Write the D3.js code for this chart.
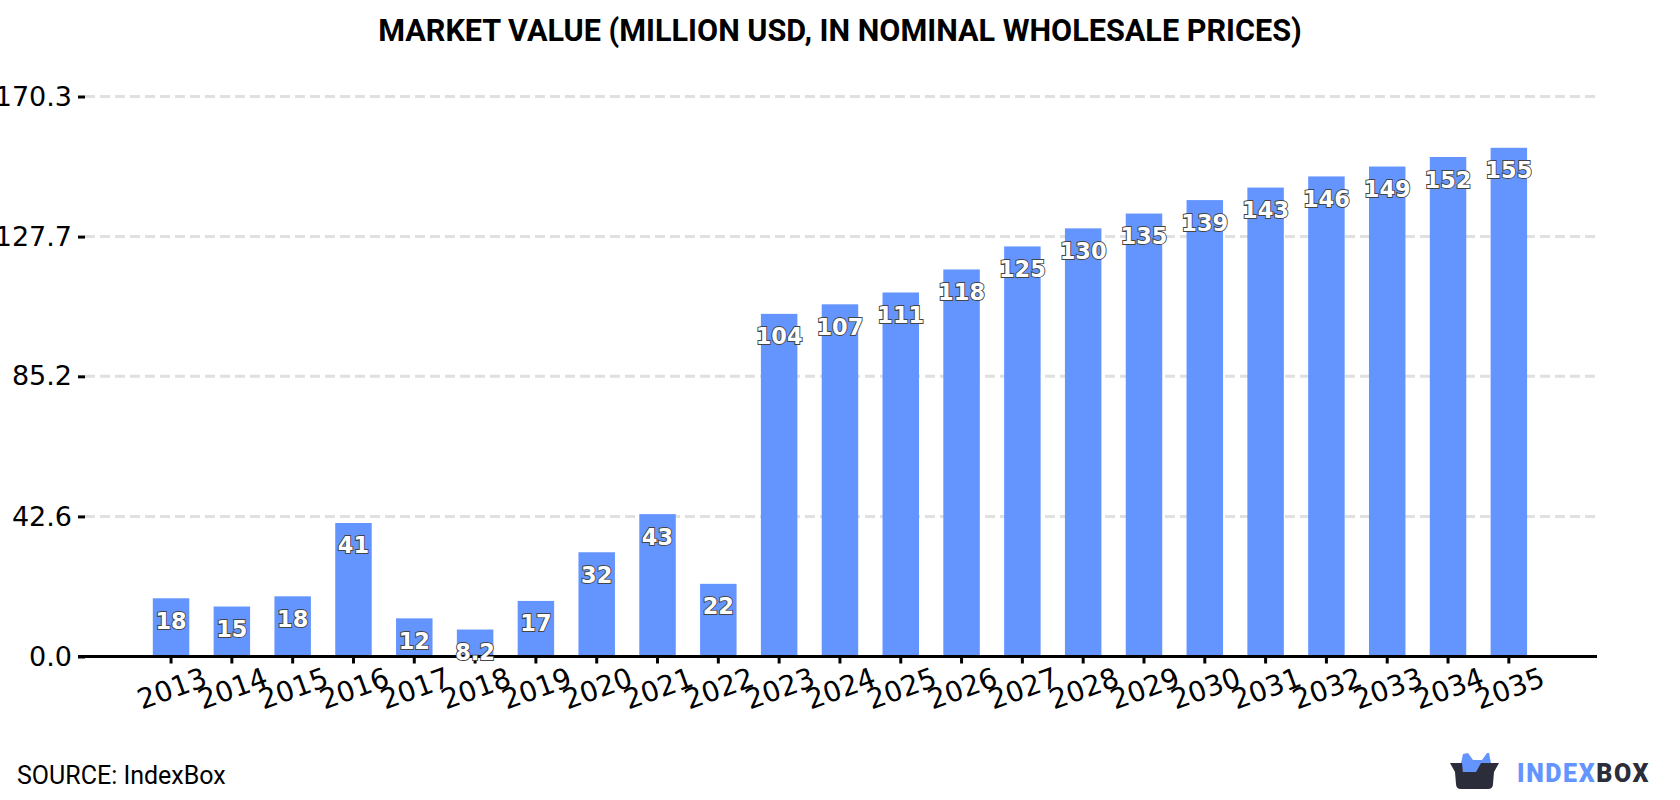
<!DOCTYPE html>
<html>
<head>
<meta charset="utf-8">
<script src="https://cdn.jsdelivr.net/npm/d3@7"></script>
<style>
html,body{margin:0;padding:0;background:#fff;}
svg{display:block;}
</style>
</head>
<body>
<svg id="chart" width="1680" height="800"></svg>
<script>
const titleText = "MARKET VALUE (MILLION USD, IN NOMINAL WHOLESALE PRICES)";
const sourceText = "SOURCE: IndexBox";
const years = [2013,2014,2015,2016,2017,2018,2019,2020,2021,2022,2023,2024,2025,2026,2027,2028,2029,2030,2031,2032,2033,2034,2035];
const values = [17.7,15.2,18.3,40.6,11.6,8.2,16.9,31.7,43.3,22.1,104.2,107.1,110.7,117.7,124.7,130.2,134.7,138.8,142.6,146.0,149.0,151.9,154.7];
const yTicks = [0.0,42.6,85.2,127.7,170.3];

const svg = d3.select("#chart");
const left = 78, right = 1597, baseY = 656.5, topY = 96.5;

const x = d3.scaleBand().domain(years).range([left + 1, right + 1]).paddingInner(0.4).paddingOuter(1.19).align(0.51);
const y = d3.scaleLinear().domain([0, 170.3]).range([baseY, topY]);

// Dashed horizontal grid, drawn behind the bars
svg.append("g").selectAll("line").data(yTicks.slice(1)).join("line")
  .attr("x1", left + 7).attr("x2", right)
  .attr("y1", d => y(d)).attr("y2", d => y(d))
  .attr("stroke", "#e0e0e0").attr("stroke-width", 3).attr("stroke-dasharray", "10 5");

// Bars
svg.append("g").selectAll("rect").data(years).join("rect")
  .attr("x", d => x(d))
  .attr("width", x.bandwidth())
  .attr("y", (d, i) => y(values[i]))
  .attr("height", (d, i) => baseY - y(values[i]))
  .attr("fill", "#6495ff");

// Left axis
const yAxis = d3.axisLeft(y).tickValues(yTicks).tickFormat(d3.format(".1f")).tickSize(7).tickPadding(6);
const gy = svg.append("g").attr("transform", `translate(${left + 7},0)`).call(yAxis);
gy.select(".domain").remove();
gy.selectAll("line").attr("stroke", "#000").attr("stroke-width", 3);
gy.selectAll("text").attr("font-family", "DejaVu Sans").attr("font-size", 27).attr("fill", "#000");

// Bottom axis
const xAxis = d3.axisBottom(x).tickSize(7).tickSizeOuter(0).tickPadding(8);
const gx = svg.append("g").attr("transform", `translate(0,${baseY})`).call(xAxis);
gx.select(".domain").attr("stroke", "#000").attr("stroke-width", 3).attr("d", `M${left},0H${right}`);
gx.selectAll("line").attr("stroke", "#000").attr("stroke-width", 3);
gx.selectAll("text")
  .attr("font-family", "DejaVu Sans").attr("font-size", 28).attr("fill", "#000")
  .attr("text-anchor", "middle").attr("dy", null)
  .attr("transform", "translate(-1,27) rotate(-20)");

// Value labels inside the bars
const fmt = v => v < 10 ? v.toFixed(1) : String(Math.round(v));
svg.append("g").selectAll("text").data(years).join("text")
  .attr("x", d => x(d) + x.bandwidth() / 2)
  .attr("y", (d, i) => y(values[i]) + 22.5)
  .attr("text-anchor", "middle").attr("dominant-baseline", "central")
  .attr("font-family", "DejaVu Sans").attr("font-weight", "bold").attr("font-size", 22.5)
  .attr("fill", "#fff").attr("stroke", "#444").attr("stroke-width", 1.8)
  .attr("paint-order", "stroke")
  .text((d, i) => fmt(values[i]));

// Title and source
svg.append("text").attr("x", 840).attr("y", 41).attr("text-anchor", "middle")
  .attr("font-family", "Roboto").attr("font-weight", "bold").attr("font-size", 30.6).attr("fill", "#000")
  .text(titleText);
svg.append("text").attr("x", 17).attr("y", 784)
  .attr("font-family", "Roboto").attr("font-size", 25).attr("fill", "#000")
  .text(sourceText);

// Brand mark: open box with a blue crown
const logo = svg.append("g");
logo.append("path")
  .attr("d", "M1461,763L1463,754L1468,753L1473,760L1482,760L1487,753L1489,753L1491,763L1482,772L1463,772Z")
  .attr("fill", "#6495ff");
logo.append("path")
  .attr("d", "M1450,763L1462,763L1463,772L1476,772L1481,763L1499,763L1494,772L1493,784Q1493,789 1488,789L1461,789Q1456,789 1456,784L1455,772Z")
  .attr("fill", "#2b2d3a");
const brand = svg.append("text").attr("x", 1517).attr("y", 782)
  .attr("font-family", "Roboto").attr("font-weight", "900").attr("font-size", 25).attr("letter-spacing", 1.6);
brand.append("tspan").attr("fill", "#6495ff").text("INDEX");
brand.append("tspan").attr("fill", "#2b2d3a").text("BOX");
</script>
</body>
</html>
